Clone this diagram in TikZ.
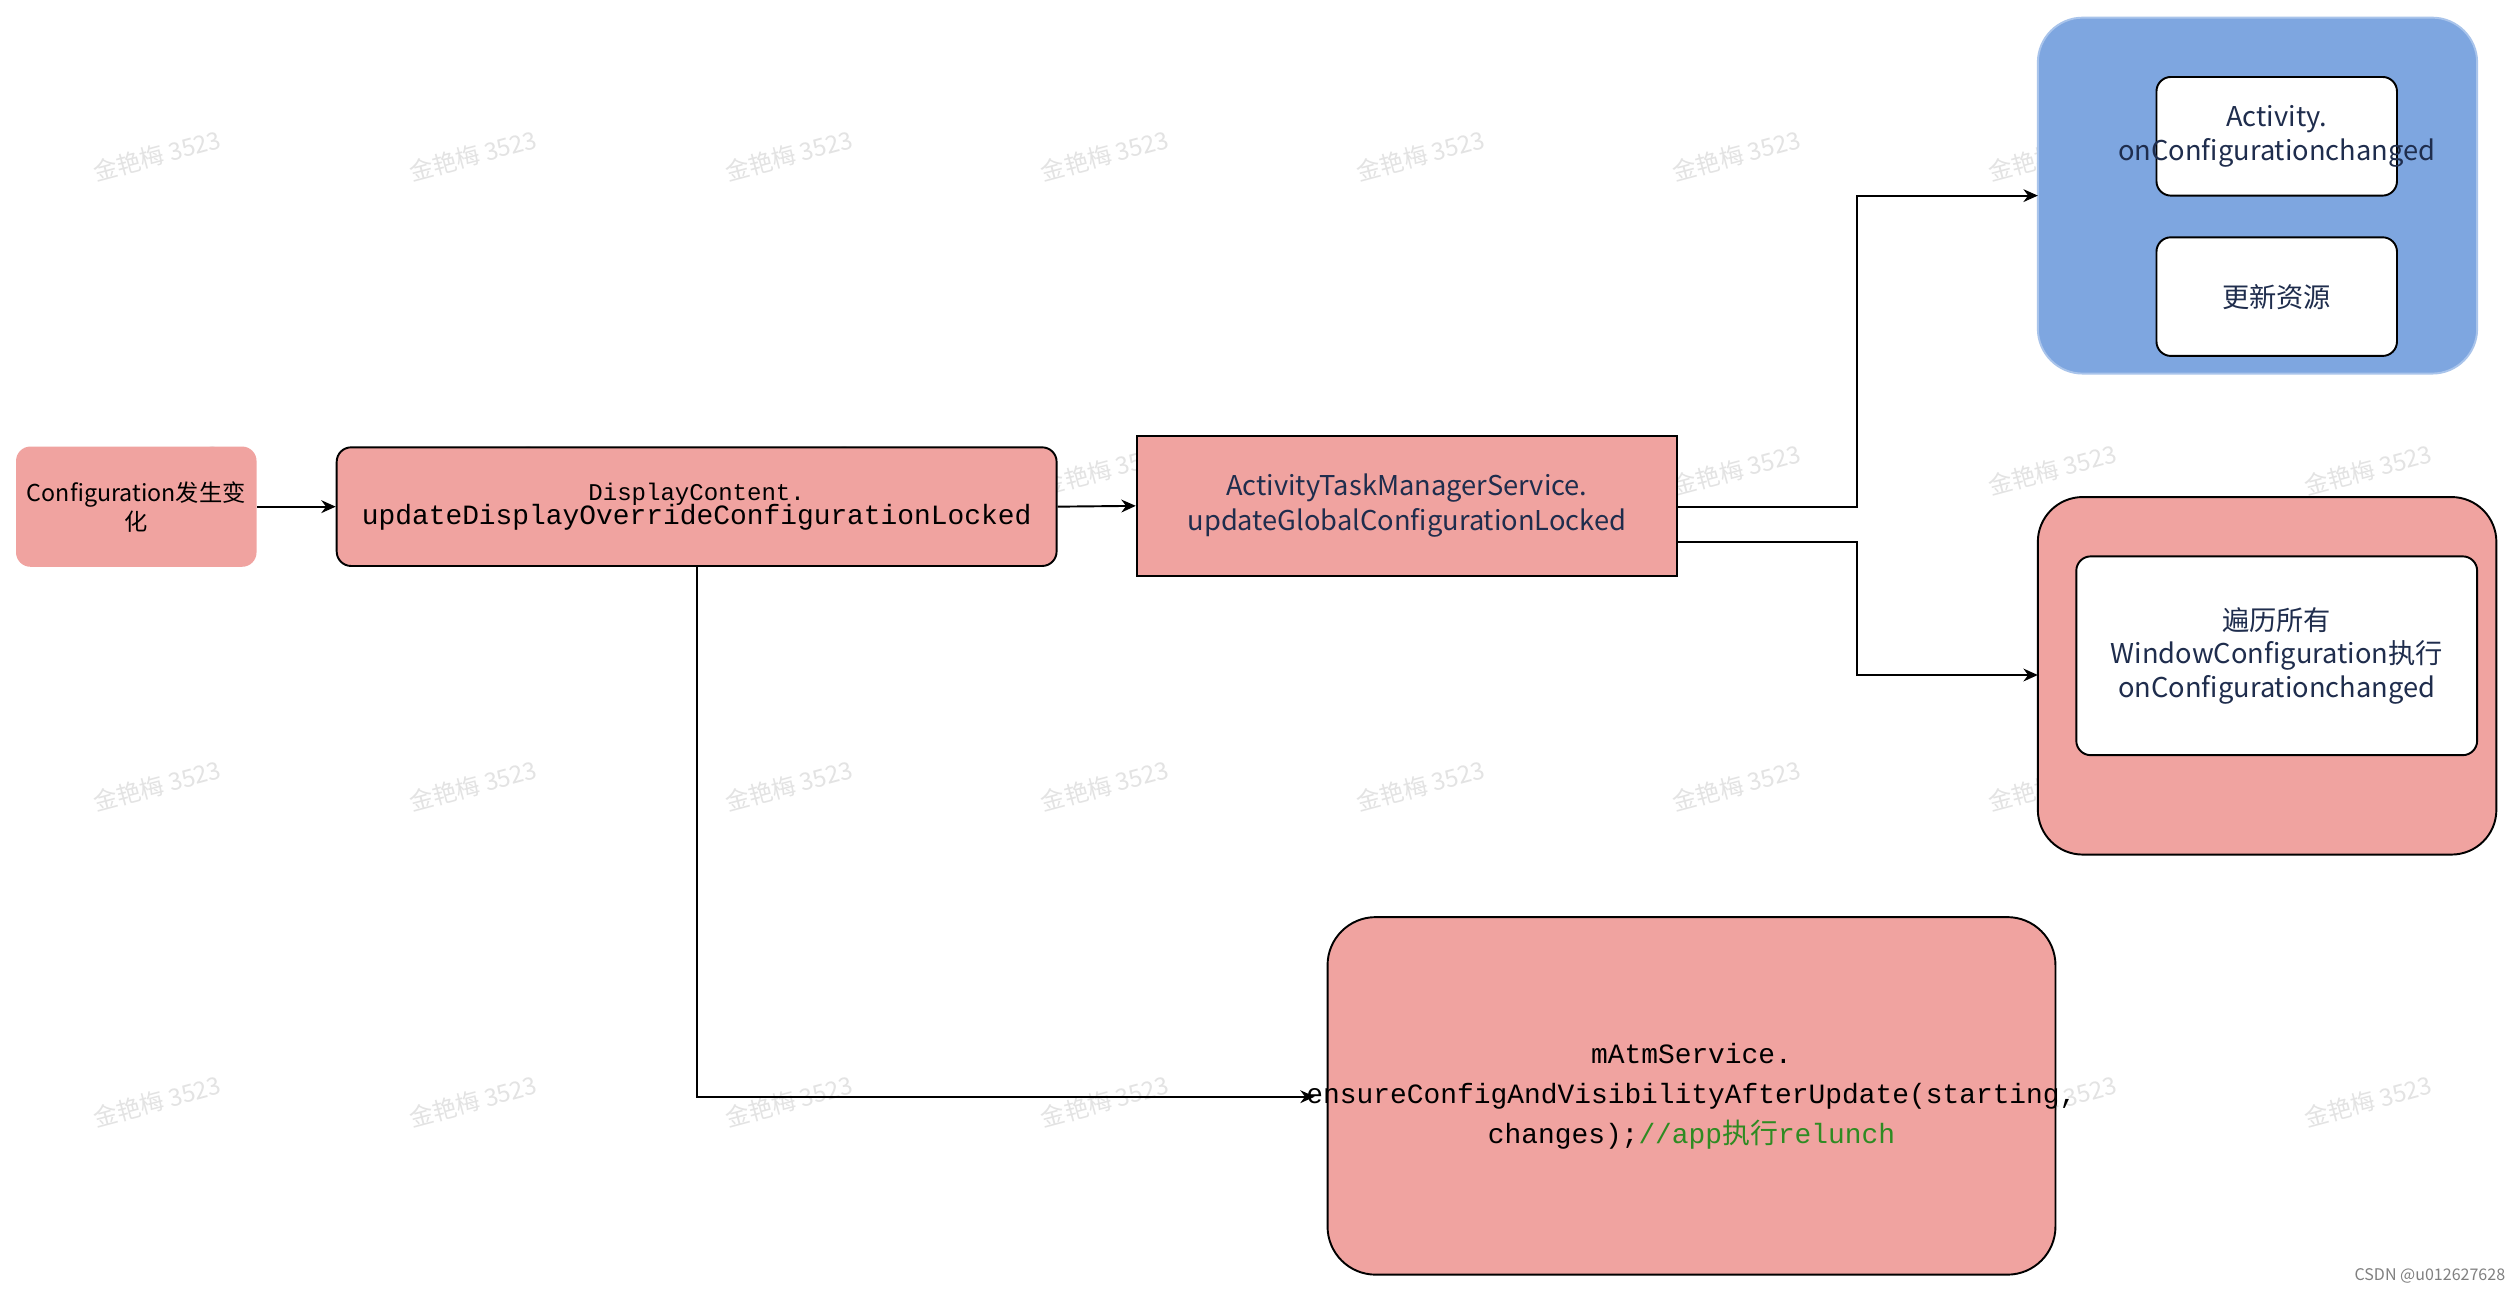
\documentclass[tikz,border=0pt]{standalone}
\usepackage{fontspec}
\setmainfont{Noto Sans CJK SC}
\setmonofont{Liberation Mono}
\newfontfamily\cjk{Noto Sans CJK SC}
\usetikzlibrary{arrows.meta}
\definecolor{pinkf}{HTML}{F0A3A0}
\definecolor{bluef}{HTML}{7EA6E0}
\definecolor{blueb}{HTML}{A9C4EB}
\definecolor{navy}{HTML}{1F2D4D}
\definecolor{cgreen}{HTML}{2E8B22}
\tikzset{
  box/.style={draw=black, line width=1.2pt, fill=pinkf, rounded corners=9pt, align=center},
  wbox/.style={draw=black, line width=1.2pt, fill=white, rounded corners=9pt, align=center, text=navy},
  arr/.style={line width=1.2pt, -{Stealth[length=9pt,width=8pt]}},
  wm/.style={text=gray!22, rotate=15, font=\fontsize{15}{15}\selectfont},
}
\begin{document}
\begin{tikzpicture}[x=1pt,y=-1pt]
\useasboundingbox (0,0) rectangle (1568,807);
\fill[white] (0,0) rectangle (1568,807);
% watermarks
\foreach \x in {98,295,492,689,886,1083,1280,1477}
  \foreach \y in {97,293,490,687}
    \node[wm] at (\x,\y) {金艳梅 3523};
% groups
\draw[fill=bluef, draw=blueb, line width=1.2pt, rounded corners=28pt] (1271,11) rectangle (1545,233);
\node[wbox, minimum width=150pt, minimum height=74pt, inner sep=0pt] (act) at (1420,85) {};
\node[text=navy, align=center, font=\fontsize{17}{21}\selectfont] at (act) {Activity.\\onConfigurationchanged};
\node[wbox, minimum width=150pt, minimum height=74pt, font=\fontsize{17}{21}\selectfont] (res) at (1420,185) {更新资源};
\draw[fill=pinkf, draw=black, line width=1.2pt, rounded corners=28pt] (1271,310) rectangle (1557,533);
\node[wbox, minimum width=250pt, minimum height=124pt, font=\fontsize{17}{21}\selectfont] (win) at (1420,409) {遍历所有\\WindowConfiguration执行\\onConfigurationchanged};
\coordinate (g1) at (1271,122);
\coordinate (g2) at (1271,421);
% main boxes
\node[box, draw=none, minimum width=150pt, minimum height=75pt, text width=138pt, font=\fontsize{14.5}{18}\selectfont] (cfg) at (85,316) {Configuration发生变\\化};
\node[box, minimum width=449pt, minimum height=74pt] (dc) at (434.5,316) {\ttfamily\fontsize{15}{20}\selectfont DisplayContent.\\[-2pt]\ttfamily\fontsize{17.4}{22}\selectfont updateDisplayOverrideConfigurationLocked};
\node[box, rounded corners=0pt, minimum width=337pt, minimum height=87pt, text=navy, font=\fontsize{17}{22}\selectfont] (atm) at (877.5,315.5) {ActivityTaskManagerService.\\updateGlobalConfigurationLocked};
\node[box, rounded corners=30pt, minimum width=454pt, minimum height=223pt] (ens) at (1055,683.5) {};
\node[align=center, font=\ttfamily\fontsize{17.4}{25}\selectfont] at (1055,684) {mAtmService.\\ensureConfigAndVisibilityAfterUpdate(starting,\\changes);\textcolor{cgreen}{//app{\cjk 执行}relunch}};
% arrows
\draw[arr] (cfg.east) -- (dc.west);
\draw[arr] (dc.east) -- (atm.west);
\draw[arr] (atm.east |- 0,316) -| (1158,122) -- (g1);
\draw[arr] (atm.east |- 0,338) -| (1158,421) -- (g2);
\draw[arr] (dc.south) |- (820,684);
\node[text=gray, font=\fontsize{10}{10}\selectfont, anchor=south east] at (1566,804) {CSDN @u012627628};
\end{tikzpicture}
\end{document}
